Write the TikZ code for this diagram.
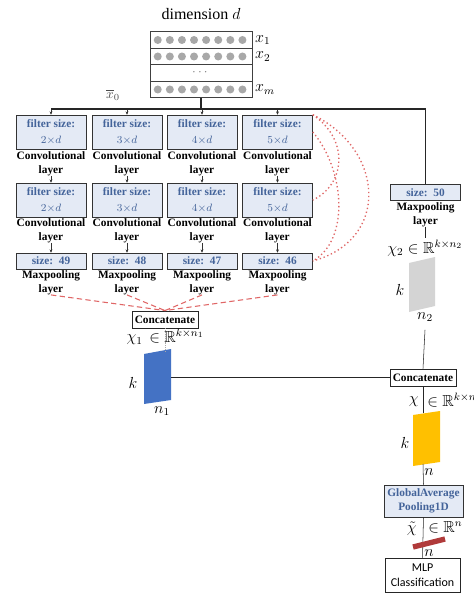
\documentclass[tikz,border=0pt]{standalone}
\usepackage{amsmath}
\usepackage{amssymb}
\usepackage{fontspec}
\setmainfont{Liberation Serif}
\newfontfamily\clsfont{Carlito}
\usepackage{tikz}
\usetikzlibrary{arrows.meta,calc}

\definecolor{boxfill}{HTML}{E4EAF5}
\definecolor{boxtext}{HTML}{44649A}
\definecolor{dashred}{HTML}{E06666}
\definecolor{featblue}{HTML}{4472C4}
\definecolor{featgrey}{HTML}{D4D4D4}
\definecolor{featyellow}{HTML}{FFC000}
\definecolor{barred}{HTML}{B03A3A}
\definecolor{dotgrey}{HTML}{A8A8A8}

\tikzset{
  bold85/.style={font=\fontsize{8.5}{10.5}\selectfont\bfseries},
  filterbox/.style={draw=black!80, fill=boxfill, text=boxtext, bold85, align=center,
    minimum width=52.5pt, minimum height=25.5pt, inner sep=0pt},
  sizebox/.style={filterbox, minimum height=12pt},
  layertext/.style={bold85, align=center, inner sep=0pt},
  plainbox/.style={draw=black!85, fill=white, bold85, inner sep=2pt, minimum height=13pt},
  matrow/.style={draw=black!75, minimum width=76.5pt, minimum height=12.4pt, inner sep=0pt},
  smallarrow/.style={-{Stealth[length=2.5pt,width=2.2pt]}, black!80},
  reddash/.style={dashed, dash pattern=on 4pt off 2.5pt, dashred, line width=0.8pt},
  reddot/.style={dotted, dashred, line width=1pt},
  mathlabel/.style={font=\large, inner sep=0pt}
}

\begin{document}
\begin{tikzpicture}[x=0.75pt, y=-0.75pt]
	\useasboundingbox[fill=white] (0,0) rectangle (474,606);
	% input matrix
	\node[font=\fontsize{12}{14}\selectfont] (dim) at (201,14) {dimension $d$};
	\foreach \r/\y in {1/40, 2/56.5, 3/73, 4/89.5} {
		\node[matrow] (r\r) at (201,\y) {};
	}
	\foreach \r in {1,2,4} {
		\foreach \k in {0,...,7} {
			\fill[dotgrey] ($(r\r.west)+(8+12.1*\k,0)$) circle[radius=3pt];
		}
	}
	\node[text=gray, inner sep=0pt] at (r3) {$\cdots$};
	\node[right=1pt, inner sep=1pt, font=\large] (lx1) at (r1.east) {$x_1$};
	\node[right=1pt, inner sep=1pt, font=\large] (lx2) at (r2.east) {$x_2$};
	\node[right=1pt, inner sep=1pt, font=\large] (lxm) at (r4.east) {$x_m$};
	\node[text=black!70] (xbar) at (113,95) {$\overline{x}_0$};
	\coordinate (bus) at (201,109);

	% four filter columns
	\foreach \i/\cx/\f/\s in {1/51/2/49, 2/127/3/48, 3/202/4/47, 4/277.5/5/46} {
		\node[filterbox] (fa\i) at (\cx,132) {filter size:\\[1pt]$\f{\times}d$};
		\node[layertext] (ca\i) at (\cx,163.5) {Convolutional\\layer};
		\node[filterbox] (fb\i) at (\cx,200) {filter size:\\[1pt]$\f{\times}d$};
		\node[layertext] (cb\i) at (\cx,230.5) {Convolutional\\layer};
		\node[sizebox] (fc\i) at (\cx,261) {size:\ \ \s};
		\node[layertext] (mc\i) at (\cx,282.5) {Maxpooling\\layer};
		\draw[smallarrow] (fa\i.north |- bus) -- (fa\i.north);
		\draw[smallarrow] (ca\i) -- (fb\i);
		\draw[smallarrow] (cb\i) -- (fc\i);
	}

	% direct maxpooling branch
	\node[sizebox] (mp) at (425.5,192.5) {size:\ \ 50};
	\node[layertext] (mpl) at (425.5,214.5) {Maxpooling\\layer};
	\draw[black!85, line width=0.9pt] (fa1.north |- bus) -- (mp.north |- bus) -- (mp.north);
	\draw[black!85, line width=0.9pt] (r4.south) -- (bus);

	% dotted links of the 5xd column
	\draw[reddot] (fa4.north east) .. controls (350,140) and (345,185) .. (fb4.east);
	\draw[reddot] (fa4.north east) .. controls (385,150) and (390,240) .. (fc4.east);
	\draw[reddot] (fa4.east) .. controls (345,170) and (350,240) .. (fc4.east);

	% left concatenation
	\node[plainbox] (cat1) at (165,319.5) {Concatenate};
	\foreach \i in {1,...,4} {
		\draw[reddash] (mc\i.south) -- (cat1.north);
	}
	\node[mathlabel, anchor=east] (chi1) at (143,340) {$\chi_1$};
	\node[mathlabel, anchor=west] (inr1) at (149,336) {$\in\mathbb{R}^{k\times n_1}$};
	\fill[featblue] (144,354) -- (171,349) -- (171,400) -- (144,404) -- cycle;
	\coordinate (blueTop) at (165,351);
	\coordinate (blueRight) at (171,377.5);
	\node[mathlabel] (k1) at (133,383) {$k$};
	\node[mathlabel] (n1) at (162,411) {$n_1$};
	\draw[dotgrey, densely dotted] (cat1.south) -- (blueTop);

	% right branch
	\draw[black!85] (mpl.south) -- (425.5,238);
	\node[mathlabel] (chi2) at (425,248) {$\chi_2\in\mathbb{R}^{k\times n_2}$};
	\fill[featgrey] (409,263) -- (435,257) -- (435,306) -- (409,312) -- cycle;
	\node[mathlabel] (k2) at (400,290) {$k$};
	\node[mathlabel] (n2) at (425,317) {$n_2$};
	\node[plainbox] (cat2) at (423,377.5) {Concatenate};
	\draw[black!85] (n2.south) ++(0,-6pt) coordinate (greyOut) -- (cat2.north);
	\draw[black!85] (blueRight) -- (cat2.west);

	% merged features
	\coordinate (yellowTop) at (423,413);
	\coordinate (yellowBot) at (423,464);
	\draw[black!85] (cat2.south) -- (yellowTop);
	\node[mathlabel, anchor=east] (chi) at (419,402) {$\chi$};
	\node[mathlabel, anchor=west] (inr) at (427,400) {$\in\mathbb{R}^{k\times n}$};
	\fill[featyellow] (413,415) -- (440,411) -- (440,462) -- (413,466) -- cycle;
	\node[mathlabel] (k3) at (405,443) {$k$};
	\node[mathlabel, anchor=west] (n3) at (424,472) {$n$};
	\node[filterbox, minimum width=59pt, minimum height=24pt] (gap) at (423.5,501) {GlobalAverage\\Pooling1D};
	\draw[black!85] (yellowBot) -- (gap.north);

	% classification
	\node[draw=black!85, align=center, minimum width=56pt, minimum height=25.5pt, inner sep=1pt,
	      font=\clsfont\fontsize{9}{11}\selectfont] (mlp) at (422.5,575) {MLP\\Classification};
	\draw[black!85] (gap.south) -- (mlp.north);
	\node[mathlabel, anchor=east] (chit) at (417,529) {$\tilde{\chi}$};
	\node[mathlabel, anchor=west] (inrt) at (428,527) {$\in\mathbb{R}^{n}$};
	\draw[barred, line width=4pt] (413,547) -- (445,539);
	\node[mathlabel, anchor=west] (n4) at (424,553) {$n$};
\end{tikzpicture}
\end{document}
